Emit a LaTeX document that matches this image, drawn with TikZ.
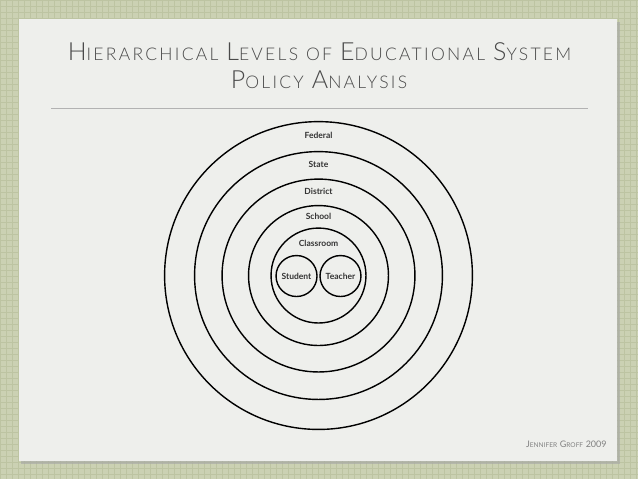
\documentclass[tikz,border=0pt]{standalone}
\usepackage{fontspec}
\setmainfont{Lato}
\newfontfamily\titlefont{Lato Light}[LetterSpace=13]
\usetikzlibrary{positioning}

\definecolor{gridgreen}{HTML}{CBD1B3}
\definecolor{gridline}{HTML}{BDC4A2}
\definecolor{panelgray}{HTML}{EEEFEC}
\definecolor{titlegray}{HTML}{4A4A4A}

% fake small caps: big first letter, smaller rest
\newcommand\tsc[2]{{\fontsize{25}{25}\selectfont #1}{\fontsize{17.5}{17.5}\selectfont #2}}
\newcommand\tsp{\hspace{8pt}}
\newcommand\fsc[2]{{\fontsize{9}{9}\selectfont #1}{\fontsize{6.6}{6.6}\selectfont #2}}

\begin{document}
\begin{tikzpicture}[x=1pt,y=-1pt] %one unit = one pixel of the slide
\tikzstyle{ring}=[circle, draw=black, line width=1.4pt, inner sep=0pt]
\tikzstyle{lbl}=[font=\fontsize{8.5}{8.5}\selectfont\bfseries, text=black!80, inner sep=1pt]

 % slide background
 \fill[gridgreen] (0,0) rectangle (638,479);
 \foreach \x in {0,6,...,636} \draw[gridline, line width=0.4pt] (\x,0) -- (\x,479);
 \foreach \y in {0,6,...,478} \draw[gridline, line width=0.4pt] (0,\y) -- (638,\y);
 \useasboundingbox (0,0) rectangle (638,479);
 \fill[black!35, opacity=0.6] (21,22) rectangle (620,464);
 \fill[panelgray] (19,19) rectangle (617,461);

 % title
 \node[text=titlegray, anchor=base, font=\titlefont] (title1) at (319.5,60)
  {\tsc{H}{IERARCHICAL}\tsp\tsc{L}{EVELS}\tsp{\fontsize{17.5}{17.5}\selectfont OF}\tsp\tsc{E}{DUCATIONAL}\tsp\tsc{S}{YSTEM}};
 \node[text=titlegray, anchor=base, font=\titlefont] (title2) at (319,88) {\tsc{P}{OLICY}\tsp\tsc{A}{NALYSIS}};
 \coordinate (ruleL) at (51,108);
 \coordinate (ruleR) at (588,108);
 \draw[black!30, line width=1.2pt] (ruleL) -- (ruleR);

 % the levels
 \node[ring, minimum size=308pt] (federal) at (318.5,275.5) {};
 \node[ring, minimum size=248pt] (state) at (318.5,275.5) {};
 \node[ring, minimum size=193pt] (district) at (318.5,275.5) {};
 \node[ring, minimum size=140pt] (school) at (318.5,275.5) {};
 \node[ring, minimum size=95pt] (classroom) at (318.5,275.5) {};
 \node[ring, minimum size=41pt] (student) at (296.5,276) {};
 \node[ring, minimum size=41pt] (teacher) at (340.5,276) {};

 \node[lbl, below=10pt of federal.north] (federaltxt) {Federal};
 \node[lbl, below=9pt of state.north] (statetxt) {State};
 \node[lbl, below=9pt of district.north] (districttxt) {District};
 \node[lbl, below=7pt of school.north] (schooltxt) {School};
 \node[lbl, below=12pt of classroom.north] (classroomtxt) {Classroom};
 \node[lbl] (studenttxt) at (student) {Student};
 \node[lbl] (teachertxt) at (teacher) {Teacher};

 % footer
 \node[text=black!50, anchor=base east, inner sep=0pt] (author) at (607,448)
  {\fsc{J}{ENNIFER} \fsc{G}{ROFF} {\fontsize{9}{9}\selectfont 2009}};
\end{tikzpicture}
\end{document}
